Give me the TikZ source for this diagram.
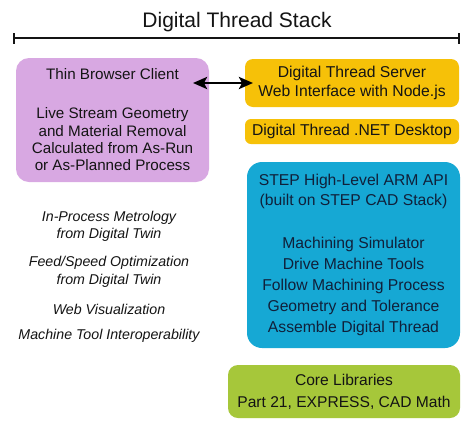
\documentclass[tikz,border=0pt]{standalone}
\usepackage{fontspec}
\setmainfont{Liberation Sans}
\usetikzlibrary{arrows.meta}
\definecolor{clientpurple}{RGB}{216,168,226}
\definecolor{serveryellow}{RGB}{246,193,8}
\definecolor{apiblue}{RGB}{22,168,212}
\definecolor{coregreen}{RGB}{166,199,58}
\definecolor{navytext}{RGB}{16,32,58}
\definecolor{inktext}{RGB}{20,20,20}
\tikzset{
  layerbox/.style={rounded corners=#1, align=center, inner sep=0pt, text=inktext},
  usecase/.style={align=center, text=inktext, font=\fontsize{14.2}{17.5}\selectfont\itshape},
  barline/.style={line width=1.6pt, draw=inktext},
  linkarrow/.style={line width=2.8pt, draw=black, {Stealth[length=14pt,width=12pt,inset=3pt]}-{Stealth[length=14pt,width=12pt,inset=3pt]}}
}
\begin{document}
\begin{tikzpicture}[x=1pt,y=-1pt]
\useasboundingbox[fill=white] (0,0) rectangle (474,432);
% title and bar
\node[font=\fontsize{21}{24}\selectfont, text=inktext] (title) at (237,22) {Digital Thread Stack};
\coordinate (barL) at (14,38);
\coordinate (barR) at (459,38);
\draw[barline] (barL) -- (barR);
\draw[barline] ([yshift=-5.5pt]barL) -- ([yshift=5.5pt]barL);
\draw[barline] ([yshift=-5.5pt]barR) -- ([yshift=5.5pt]barR);
% boxes
\node[layerbox=13pt, fill=clientpurple, minimum width=193pt, minimum height=124pt,
      font=\fontsize{15.2}{17.3}\selectfont] (client) at (112.5,120)
  {Thin Browser Client\\[21.7pt]Live Stream Geometry\\and Material Removal\\Calculated from As-Run\\or As-Planned Process};
\node[layerbox=8pt, fill=serveryellow, minimum width=214pt, minimum height=48pt,
      font=\fontsize{15.7}{19}\selectfont] (server) at (352,83)
  {Digital Thread Server\\Web Interface with Node.js};
\node[layerbox=6pt, fill=serveryellow, minimum width=214pt, minimum height=25pt,
      font=\fontsize{15.7}{19}\selectfont] (desktop) at (352,131.5)
  {Digital Thread .NET Desktop};
\node[layerbox=15pt, fill=apiblue, minimum width=213pt, minimum height=186pt,
      text=navytext, font=\fontsize{15.7}{21}\selectfont] (api) at (353.5,255)
  {STEP High-Level ARM API\\[-1pt](built on STEP CAD Stack)\\[22pt]Machining Simulator\\Drive Machine Tools\\Follow Machining Process\\Geometry and Tolerance\\Assemble Digital Thread};
\node[layerbox=10pt, fill=coregreen, minimum width=232pt, minimum height=53pt,
      font=\fontsize{15.6}{22}\selectfont] (core) at (344,391.5)
  {Core Libraries\\Part 21, EXPRESS, CAD Math};
% arrow between client and server
\coordinate (arrL) at (193,83);
\coordinate (arrR) at (253,83);
\draw[linkarrow] (arrL) -- (arrR);
% applications
\node[usecase] (metro) at (109,226.5) {In-Process Metrology\\from Digital Twin};
\node[usecase] (feed) at (109,272) {Feed/Speed Optimization\\from Digital Twin};
\node[usecase] (webvis) at (109,309) {Web Visualization};
\node[usecase] (interop) at (109,336) {Machine Tool Interoperability};
\end{tikzpicture}
\end{document}
